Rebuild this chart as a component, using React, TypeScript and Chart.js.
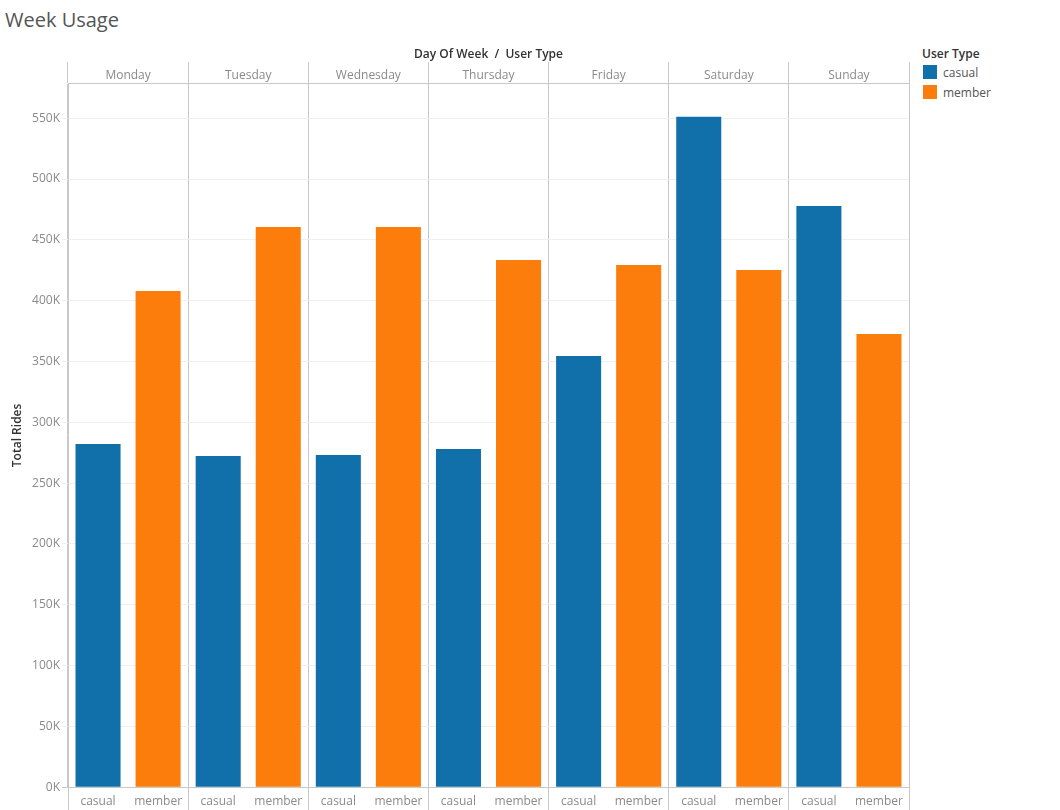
import React, { useEffect, useRef } from 'react';
import { Chart, registerables } from 'chart.js';

Chart.register(...registerables);

const days = ['Monday', 'Tuesday', 'Wednesday', 'Thursday', 'Friday', 'Saturday', 'Sunday'];
const userTypes = ['casual', 'member'];
const casualRides = [282200, 272400, 273200, 278100, 354600, 551100, 477900];
const memberRides = [408000, 460600, 460600, 433500, 429400, 425300, 372700];
const yTickValues = [0, 50000, 100000, 150000, 200000, 250000, 300000, 350000, 400000, 450000, 500000, 550000];
const typeColors = ['#1170aa', '#fc7d0b'];

const FONT = '"Open Sans", sans-serif';
const LINE = '#c8c8c8';

const App: React.FC = () => {
  const chartRef = useRef<HTMLCanvasElement>(null);
  const chartInstance = useRef<Chart | null>(null);

  useEffect(() => {
    if (!chartRef.current) return;
    if (chartInstance.current) chartInstance.current.destroy();

    // one category per (day, user type) pair
    const labels = days.flatMap(() => userTypes);
    const casualData = days.flatMap((_, i) => [casualRides[i], null]);
    const memberData = days.flatMap((_, i) => [null, memberRides[i]]);

    chartInstance.current = new Chart(chartRef.current, {
      type: 'bar',
      data: {
        labels,
        datasets: [
          { label: 'casual', data: casualData, backgroundColor: typeColors[0], barPercentage: 0.75, categoryPercentage: 1 },
          { label: 'member', data: memberData, backgroundColor: typeColors[1], barPercentage: 0.75, categoryPercentage: 1 },
        ],
      },
      options: {
        animation: false,
        responsive: true,
        maintainAspectRatio: false,
        layout: { padding: { top: 40, right: 3, bottom: 0, left: 0 } },
        plugins: {
          legend: { display: false },
          tooltip: { enabled: false },
        },
        scales: {
          x: {
            stacked: true,
            position: 'bottom',
            grid: {
              offset: true,
              drawOnChartArea: false,
              tickLength: 22.7,
              color: (ctx: any) => ((ctx.index ?? 0) % 2 === 0 ? LINE : 'transparent'),
            },
            border: { color: LINE },
            ticks: {
              padding: -15.5,
              color: '#8a8a8a',
              maxRotation: 0,
              autoSkip: false,
              font: { family: FONT, size: 12 },
            },
            afterFit: (scale: any) => {
              scale.height = 22.7;
            },
          },
          x2: {
            type: 'category',
            position: 'top',
            labels: days,
            offset: true,
            grid: {
              offset: true,
              drawOnChartArea: true,
              tickLength: 21.5,
              color: LINE,
            },
            border: { color: LINE },
            ticks: {
              padding: -20.5,
              color: '#8a8a8a',
              maxRotation: 0,
              autoSkip: false,
              font: { family: FONT, size: 12 },
            },
            title: {
              display: true,
              text: 'Day Of Week  /  User Type',
              color: '#333',
              font: { family: FONT, size: 12, weight: '600' },
              padding: { top: 7, bottom: 0 },
            },
            afterFit: (scale: any) => {
              scale.height = 43.5;
            },
          },
          y: {
            stacked: true,
            min: 0,
            max: 578500,
            grid: {
              color: (ctx: any) => (ctx.tick && ctx.tick.value === 0 ? LINE : '#efefef'),
              tickLength: 6,
            },
            border: { color: LINE },
            ticks: {
              padding: 2,
              color: '#8a8a8a',
              font: { family: FONT, size: 12 },
              callback: (v: any) => `${Number(v) / 1000}K`,
            },
            afterBuildTicks: (scale: any) => {
              scale.ticks = yTickValues.map((value) => ({ value }));
            },
            title: {
              display: true,
              text: 'Total Rides',
              color: '#333',
              font: { family: FONT, size: 12, weight: '600' },
              padding: { top: 10, bottom: 0 },
            },
            afterFit: (scale: any) => {
              scale.width = 68;
            },
          },
        },
      },
    });

    return () => {
      if (chartInstance.current) {
        chartInstance.current.destroy();
        chartInstance.current = null;
      }
    };
  }, []);

  return (
    <div
      style={{
        position: 'absolute',
        left: 0,
        top: 0,
        width: 1060,
        height: 810,
        background: '#fff',
        fontFamily: FONT,
        overflow: 'hidden',
      }}
    >
      <div style={{ position: 'absolute', left: 5, top: 6, fontSize: 20, lineHeight: '28px', color: '#555' }}>
        Week Usage
      </div>
      <div style={{ position: 'absolute', left: 0, top: 0, width: 912, height: 810 }}>
        <canvas ref={chartRef}></canvas>
      </div>
      <div style={{ position: 'absolute', left: 922, top: 46 }}>
        <div style={{ fontSize: 12, fontWeight: 600, color: '#333', lineHeight: '16px' }}>User Type</div>
        {userTypes.map((t, i) => (
          <div key={t} style={{ display: 'flex', alignItems: 'center', height: 20 }}>
            <span style={{ width: 14, height: 14, background: typeColors[i], marginLeft: 1, marginRight: 6 }}></span>
            <span style={{ fontSize: 12, color: '#555' }}>{t}</span>
          </div>
        ))}
      </div>
    </div>
  );
};

export default App;
